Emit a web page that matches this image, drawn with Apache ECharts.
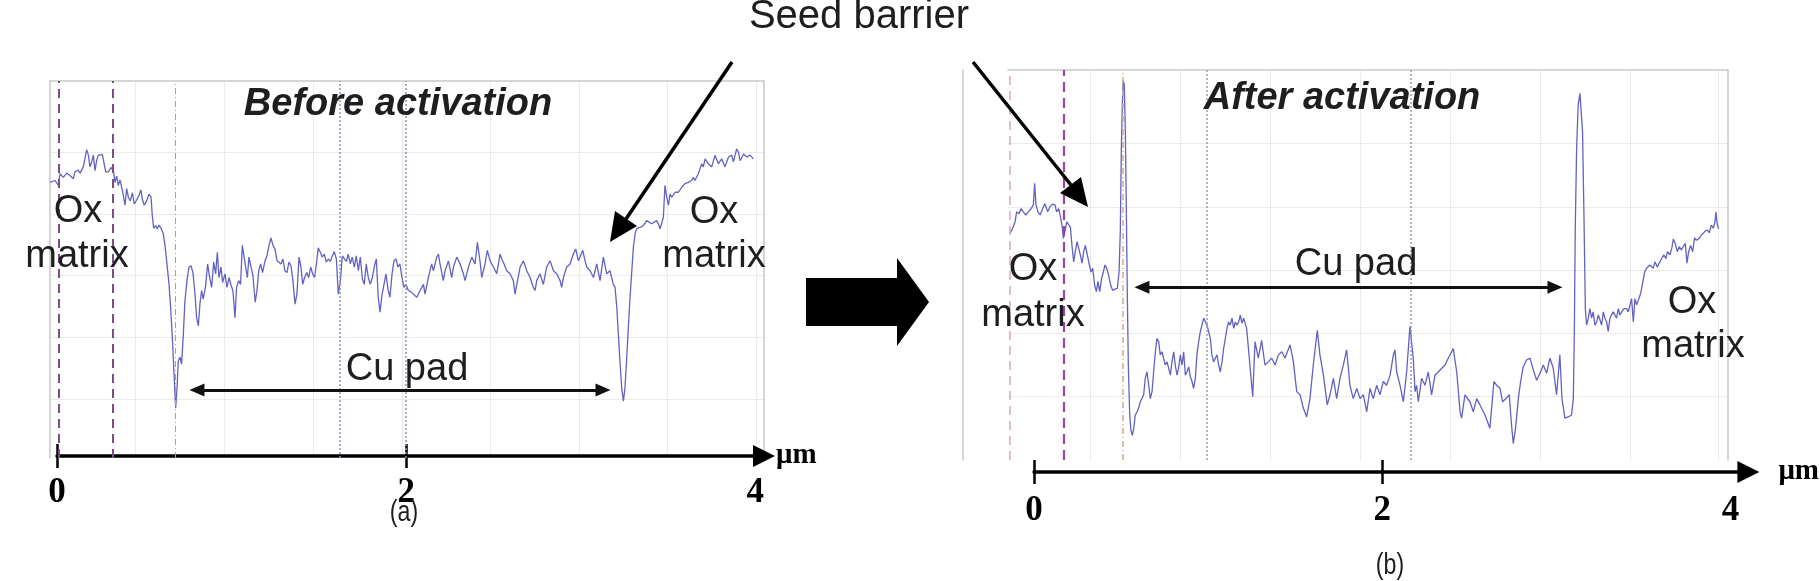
<!DOCTYPE html>
<html>
<head>
<meta charset="utf-8">
<title>Seed barrier - before / after activation</title>
<script src="https://cdn.jsdelivr.net/npm/echarts@6/dist/echarts.min.js"></script>
<style>
  html, body { margin: 0; padding: 0; background: #fff; }
  #chart { width: 1820px; height: 581px; }
</style>
</head>
<body>
<div id="chart"></div>
<script>
"use strict";//严格模式

// 激活前扫描: [位置 μm, 强度 a.u.]
var beforeScan = [
  [-0.040,4.51],[-0.011,4.54],[0.008,4.46],[0.017,4.65],[0.036,4.59],[0.055,4.66],[0.074,4.62],[0.094,4.57],
  [0.103,4.68],[0.122,4.71],[0.132,4.66],[0.151,4.76],[0.170,5.04],[0.180,4.95],[0.189,4.76],[0.199,4.84],
  [0.208,4.95],[0.218,4.70],[0.227,4.86],[0.237,4.95],[0.246,4.97],[0.260,4.96],[0.271,4.97],[0.279,4.68],
  [0.294,4.68],[0.309,4.75],[0.323,4.70],[0.332,4.51],[0.342,4.61],[0.351,4.46],[0.361,4.55],[0.374,4.39],
  [0.390,4.14],[0.399,4.41],[0.409,4.27],[0.420,4.21],[0.432,4.34],[0.443,4.16],[0.456,4.22],[0.470,4.30],
  [0.481,4.39],[0.489,4.24],[0.500,4.14],[0.514,4.21],[0.527,4.32],[0.539,4.27],[0.546,3.97],[0.554,3.77],
  [0.565,3.81],[0.575,3.76],[0.584,3.82],[0.596,3.77],[0.609,3.68],[0.619,3.49],[0.630,3.19],[0.642,2.86],
  [0.651,2.49],[0.661,2.00],[0.670,1.46],[0.680,0.86],[0.688,1.19],[0.695,1.62],[0.705,1.68],[0.714,1.57],
  [0.724,2.05],[0.733,2.59],[0.745,2.92],[0.756,3.14],[0.768,3.16],[0.779,3.05],[0.791,2.70],[0.800,2.32],
  [0.810,2.19],[0.819,2.54],[0.829,2.76],[0.838,2.62],[0.852,2.84],[0.863,3.19],[0.875,2.97],[0.886,2.81],
  [0.898,3.22],[0.909,3.03],[0.919,3.38],[0.928,2.97],[0.940,3.14],[0.949,2.89],[0.963,3.03],[0.974,2.81],
  [0.986,2.97],[0.997,2.85],[1.008,2.76],[1.020,2.32],[1.029,2.81],[1.041,2.92],[1.052,2.86],[1.062,3.49],
  [1.072,3.51],[1.081,3.14],[1.091,2.97],[1.100,3.30],[1.112,3.14],[1.123,3.00],[1.136,2.57],[1.146,2.76],
  [1.156,3.08],[1.167,3.19],[1.178,3.05],[1.192,3.24],[1.203,3.32],[1.215,3.49],[1.226,3.61],[1.238,3.49],
  [1.249,3.43],[1.261,3.24],[1.272,3.27],[1.284,3.19],[1.295,3.27],[1.306,3.08],[1.318,3.05],[1.329,3.22],
  [1.341,3.16],[1.352,2.92],[1.364,2.54],[1.375,2.70],[1.387,3.30],[1.398,3.14],[1.408,2.86],[1.419,2.97],
  [1.431,3.05],[1.442,2.97],[1.454,3.14],[1.465,3.03],[1.476,2.97],[1.488,3.22],[1.497,3.45],[1.509,3.38],
  [1.520,3.30],[1.532,3.35],[1.543,3.22],[1.555,3.27],[1.566,3.23],[1.578,3.32],[1.589,3.39],[1.601,3.27],
  [1.612,2.70],[1.624,2.92],[1.635,3.32],[1.646,3.34],[1.658,3.23],[1.669,3.35],[1.681,3.19],[1.692,3.30],
  [1.704,3.14],[1.715,3.32],[1.727,3.08],[1.738,3.30],[1.750,2.95],[1.761,2.86],[1.772,3.19],[1.784,2.97],
  [1.795,2.86],[1.807,2.97],[1.818,3.14],[1.830,3.27],[1.841,2.65],[1.851,2.41],[1.862,2.68],[1.874,2.86],
  [1.885,3.03],[1.897,2.78],[1.908,2.65],[1.920,3.03],[1.931,3.24],[1.943,3.27],[1.954,3.14],[1.965,3.19],
  [1.977,2.97],[1.988,2.81],[2.000,2.86],[2.013,2.76],[2.032,2.73],[2.042,2.70],[2.062,2.65],[2.081,2.76],
  [2.100,2.86],[2.109,2.70],[2.128,2.97],[2.147,3.19],[2.157,3.08],[2.176,3.30],[2.186,3.35],[2.195,3.19],
  [2.214,2.92],[2.224,3.08],[2.243,3.24],[2.262,2.97],[2.272,3.14],[2.291,3.30],[2.310,3.19],[2.329,3.03],
  [2.338,2.92],[2.358,3.14],[2.377,3.30],[2.396,3.19],[2.409,3.54],[2.424,3.24],[2.434,2.97],[2.453,3.19],
  [2.466,3.41],[2.482,3.24],[2.501,3.14],[2.520,3.03],[2.539,3.35],[2.549,3.27],[2.562,3.19],[2.577,3.08],
  [2.596,3.03],[2.615,2.92],[2.625,2.70],[2.635,2.86],[2.654,3.14],[2.673,3.24],[2.692,3.08],[2.711,2.97],
  [2.730,2.81],[2.740,2.76],[2.749,2.92],[2.768,3.03],[2.787,2.86],[2.806,3.14],[2.826,3.24],[2.845,3.08],
  [2.864,3.03],[2.883,2.92],[2.892,2.81],[2.902,2.97],[2.921,3.14],[2.940,3.19],[2.959,3.35],[2.973,3.43],
  [2.988,3.24],[2.997,3.30],[3.013,3.41],[3.026,3.24],[3.036,3.14],[3.055,3.08],[3.064,3.03],[3.074,2.97],
  [3.093,3.19],[3.112,2.92],[3.131,3.30],[3.150,3.03],[3.169,3.08],[3.188,2.86],[3.198,2.81],[3.208,2.49],
  [3.217,2.05],[3.227,1.57],[3.236,1.19],[3.246,0.97],[3.255,1.19],[3.265,1.68],[3.274,2.16],[3.284,2.65],
  [3.293,3.03],[3.303,3.46],[3.313,3.68],[3.322,3.76],[3.341,3.78],[3.360,3.81],[3.379,3.89],[3.389,3.92],
  [3.408,3.84],[3.418,3.81],[3.437,3.89],[3.446,3.84],[3.456,3.76],[3.465,3.73],[3.475,3.95],[3.484,4.46],
  [3.494,4.27],[3.504,4.14],[3.513,4.32],[3.523,4.27],[3.542,4.35],[3.561,4.35],[3.580,4.43],[3.599,4.49],
  [3.618,4.51],[3.637,4.54],[3.647,4.59],[3.656,4.54],[3.675,4.65],[3.695,4.81],[3.704,4.76],[3.714,4.89],
  [3.733,4.81],[3.752,4.76],[3.771,4.95],[3.790,4.81],[3.809,4.89],[3.828,4.76],[3.848,4.92],[3.867,4.95],
  [3.876,4.84],[3.895,5.05],[3.905,5.00],[3.915,4.86],[3.934,4.97],[3.953,4.92],[3.972,4.95],[3.991,4.89]
];

// 激活后扫描: [位置 μm, 强度 a.u.]
var afterScan = [
  [-0.126,3.58],[-0.111,3.66],[-0.097,3.76],[-0.088,3.92],[-0.074,3.89],[-0.063,3.97],[-0.050,3.92],[-0.036,3.87],
  [-0.021,3.92],[-0.008,3.96],[0.008,4.03],[0.015,4.37],[0.023,4.03],[0.034,3.92],[0.046,3.87],[0.061,3.97],
  [0.074,4.05],[0.090,3.92],[0.103,4.00],[0.118,4.04],[0.132,4.03],[0.141,3.92],[0.153,3.97],[0.164,3.83],
  [0.172,3.71],[0.180,3.50],[0.189,3.61],[0.199,3.76],[0.210,3.79],[0.220,3.68],[0.229,3.39],[0.239,3.13],
  [0.248,3.29],[0.258,3.45],[0.267,3.47],[0.277,3.24],[0.287,3.11],[0.296,3.29],[0.306,3.39],[0.317,3.39],
  [0.329,3.08],[0.338,2.97],[0.348,3.03],[0.359,2.76],[0.369,2.66],[0.378,2.82],[0.388,2.66],[0.399,2.87],
  [0.409,2.97],[0.418,3.08],[0.428,3.03],[0.439,2.92],[0.451,2.76],[0.462,2.68],[0.476,2.70],[0.489,2.71],
  [0.499,2.97],[0.506,3.61],[0.512,4.92],[0.518,5.66],[0.523,6.00],[0.529,5.92],[0.535,5.18],[0.541,3.87],
  [0.546,2.66],[0.552,1.50],[0.560,0.71],[0.567,0.47],[0.575,0.39],[0.583,0.50],[0.592,0.71],[0.602,0.76],
  [0.611,0.82],[0.621,0.92],[0.630,0.97],[0.640,1.03],[0.649,1.29],[0.659,1.39],[0.669,1.18],[0.678,0.97],
  [0.688,1.08],[0.697,1.39],[0.707,1.71],[0.716,1.92],[0.726,1.87],[0.735,1.66],[0.745,1.71],[0.754,1.61],
  [0.764,1.50],[0.774,1.55],[0.783,1.45],[0.793,1.34],[0.802,1.55],[0.812,1.71],[0.821,1.50],[0.831,1.34],
  [0.840,1.45],[0.850,1.66],[0.860,1.50],[0.869,1.71],[0.879,1.34],[0.888,1.39],[0.898,1.47],[0.907,1.32],
  [0.917,1.24],[0.926,1.13],[0.936,1.29],[0.945,1.66],[0.955,1.87],[0.965,2.03],[0.974,2.13],[0.984,2.24],
  [0.993,2.26],[1.003,2.13],[1.012,2.13],[1.022,1.92],[1.031,1.66],[1.041,1.55],[1.051,1.61],[1.060,1.66],
  [1.070,1.50],[1.079,1.39],[1.089,1.55],[1.098,1.76],[1.108,1.92],[1.117,2.08],[1.127,2.18],[1.136,2.13],
  [1.146,2.24],[1.156,2.08],[1.165,2.18],[1.175,2.13],[1.184,2.18],[1.194,2.29],[1.203,2.16],[1.213,2.24],
  [1.230,2.08],[1.265,1.00],[1.278,1.87],[1.297,1.61],[1.316,1.89],[1.335,1.50],[1.354,1.55],[1.373,1.61],
  [1.393,1.50],[1.412,1.66],[1.431,1.71],[1.450,1.61],[1.479,1.82],[1.498,1.55],[1.517,1.08],[1.536,1.03],
  [1.555,0.82],[1.574,0.68],[1.593,0.97],[1.612,1.50],[1.635,2.05],[1.650,1.66],[1.670,1.34],[1.692,0.87],
  [1.708,1.03],[1.727,1.29],[1.746,0.97],[1.765,1.29],[1.784,1.50],[1.803,1.74],[1.822,1.18],[1.841,0.97],
  [1.861,1.13],[1.880,0.97],[1.899,1.03],[1.918,0.76],[1.937,1.13],[1.956,0.97],[1.975,1.18],[1.994,1.03],
  [2.013,1.24],[2.032,1.18],[2.052,1.34],[2.071,1.66],[2.080,1.74],[2.090,1.39],[2.109,1.18],[2.128,0.92],
  [2.147,1.39],[2.166,2.11],[2.176,2.13],[2.185,1.61],[2.195,1.08],[2.204,1.18],[2.214,0.92],[2.233,1.29],
  [2.252,1.18],[2.271,1.39],[2.290,1.03],[2.309,1.34],[2.328,1.39],[2.348,1.45],[2.367,1.50],[2.386,1.61],
  [2.405,1.71],[2.414,1.76],[2.434,1.39],[2.453,0.76],[2.462,0.66],[2.481,1.03],[2.510,0.92],[2.529,0.76],
  [2.548,0.97],[2.567,0.87],[2.596,0.71],[2.624,0.50],[2.647,1.24],[2.663,1.18],[2.682,1.13],[2.697,0.92],
  [2.716,0.97],[2.735,1.03],[2.748,0.55],[2.758,0.26],[2.771,0.50],[2.787,0.97],[2.800,1.24],[2.815,1.47],
  [2.834,1.58],[2.854,1.61],[2.873,1.42],[2.892,1.26],[2.911,1.37],[2.930,1.50],[2.949,1.37],[2.968,1.61],
  [2.987,1.45],[3.006,1.03],[3.025,1.66],[3.037,0.97],[3.054,0.66],[3.073,0.68],[3.092,0.71],[3.102,0.97],
  [3.108,2.03],[3.113,3.61],[3.121,4.92],[3.130,5.61],[3.140,5.79],[3.148,5.76],[3.155,5.18],[3.163,3.87],
  [3.171,2.39],[3.178,2.13],[3.188,2.24],[3.197,2.39],[3.207,2.24],[3.216,2.34],[3.226,2.13],[3.236,2.18],
  [3.245,2.29],[3.255,2.21],[3.264,2.13],[3.274,2.34],[3.283,2.24],[3.293,2.18],[3.302,2.03],[3.312,2.24],
  [3.321,2.29],[3.331,2.34],[3.350,2.24],[3.360,2.39],[3.369,2.29],[3.379,2.34],[3.392,2.39],[3.407,2.39],
  [3.417,2.34],[3.427,2.45],[3.436,2.55],[3.446,2.18],[3.455,2.55],[3.465,2.45],[3.478,2.55],[3.488,2.63],
  [3.499,2.79],[3.511,2.97],[3.522,3.03],[3.541,3.08],[3.560,3.03],[3.570,3.13],[3.583,3.05],[3.598,3.13],
  [3.610,3.19],[3.621,3.24],[3.633,3.18],[3.642,3.29],[3.656,3.24],[3.667,3.35],[3.675,3.49],[3.686,3.42],
  [3.698,3.29],[3.709,3.37],[3.721,3.32],[3.732,3.37],[3.744,3.42],[3.753,3.11],[3.763,3.29],[3.774,3.39],
  [3.786,3.29],[3.797,3.51],[3.808,3.47],[3.824,3.50],[3.835,3.55],[3.847,3.58],[3.858,3.62],[3.870,3.63],
  [3.881,3.59],[3.893,3.71],[3.904,3.66],[3.914,3.76],[3.919,3.92],[3.927,3.72],[3.935,3.65]
];

// 竖直参考线位置 (μm)
var beforeMarks = [0.006, 0.315, 0.682, 1.616, 2.000];
var afterMarks = [-0.126, 0.178, 0.523, 1.005, 2.170];
// 浅灰网格线
var beforeGridX = [0.447, 0.957, 1.467, 1.977, 2.481, 2.991, 3.496, 4.006];
var afterGridX = [0.332, 0.848, 1.364, 1.880, 2.395, 2.911, 3.427, 3.931];
var gridY = [1, 2, 3, 4, 5];
// 标尺
var rulerTicks = [0, 2];
var rulerLabels = [0, 2, 4];
// Cu pad 双箭头两端 [μm, a.u.]
var beforePad = [[0.802, 1.15], [3.129, 1.15]];
var afterPad = [[0.630, 2.73], [2.997, 2.73]];

var SANS = '"Liberation Sans", Arial, sans-serif';
var SERIF = '"Liberation Serif", "Times New Roman", serif';
var BOX = '#c9c9c9';
var GRIDLINE = '#ebebeb';

function dataXAxis(grid, min, max, splits) {
    return {
        type: 'value', gridIndex: grid, min: min, max: max, position: 'top',
        axisLine: { show: true, onZero: false, lineStyle: { color: BOX, width: 1.5 } },
        axisTick: { show: false, customValues: splits },
        axisLabel: { show: false },
        splitLine: { show: true, lineStyle: { color: GRIDLINE, width: 1 } }
    };
}

function dataYAxis(grid, min, max, offset) {
    return {
        type: 'value', gridIndex: grid, min: min, max: max, offset: offset,
        axisLine: { show: true, onZero: false, lineStyle: { color: BOX, width: 1.5 } },
        axisTick: { show: false, customValues: gridY },
        axisLabel: { show: false },
        splitLine: { show: true, lineStyle: { color: GRIDLINE, width: 1 } }
    };
}

function rightBorder(grid) {
    return {
        type: 'value', gridIndex: grid, min: 0, max: 1, position: 'right',
        axisLine: { show: true, onZero: false, lineStyle: { color: BOX, width: 1.5 } },
        axisTick: { show: false }, axisLabel: { show: false }, splitLine: { show: false }
    };
}

// 标尺: 一条带箭头和刻度的轴, 刻度向下
function rulerAxis(grid, max, labelMargin, nameGap, nameLift) {
    return {
        type: 'value', gridIndex: grid, min: 0, max: max, position: 'bottom',
        name: 'μm', nameLocation: 'end', nameGap: nameGap,
        nameTextStyle: {
            fontFamily: SERIF, fontSize: 29, fontWeight: 'bold', color: '#000',
            align: 'left', verticalAlign: 'middle', padding: [0, 0, nameLift, 0]
        },
        axisLine: {
            show: true, onZero: false,
            symbol: ['none', 'triangle'], symbolSize: [22, 22],
            lineStyle: { color: '#000', width: 3.5 }
        },
        axisTick: { show: true, inside: false, length: 12, customValues: rulerTicks, lineStyle: { color: '#000', width: 2.5 } },
        axisLabel: {
            show: true, customValues: rulerLabels, margin: labelMargin,
            fontFamily: SERIF, fontSize: 35, fontWeight: 'bold', color: '#000'
        },
        splitLine: { show: false }
    };
}

// 标尺的刻度向上半截
function rulerTickUp(grid, max) {
    return {
        type: 'value', gridIndex: grid, min: 0, max: max, position: 'bottom',
        axisLine: { show: false, onZero: false },
        axisTick: { show: true, inside: true, length: 12, customValues: rulerTicks, lineStyle: { color: '#000', width: 2.5 } },
        axisLabel: { show: false },
        splitLine: { show: false }
    };
}

function vline(x, color, type, width) {
    return { xAxis: x, lineStyle: { color: color, type: type, width: width } };
}

function padArrow(ends) {
    var style = { color: '#111', width: 3, type: 'solid' };
    return [
        { coord: ends[0], symbol: 'triangle', symbolSize: [13, 15], lineStyle: style },
        { coord: ends[1], symbol: 'triangle', symbolSize: [13, 15], lineStyle: style }
    ];
}

function scanSeries(xi, yi, data, lines) {
    return {
        type: 'line', xAxisIndex: xi, yAxisIndex: yi, data: data,
        showSymbol: false, symbol: 'none', silent: true,
        lineStyle: { color: '#6262c4', width: 1.3 },
        markLine: {
            silent: true, symbol: ['none', 'none'], label: { show: false },
            animation: false, data: lines
        }
    };
}

function label(x, y, text, font, sx) {
    return {
        type: 'text', x: x, y: y, z: 100, silent: true, scaleX: sx || 1,
        style: { text: text, font: font, fill: '#1e1e1e', align: 'center', verticalAlign: 'middle' }
    };
}

var BIG = '38px ' + SANS;
var TITLE = 'italic bold 38px ' + SANS;

var myChart = echarts.init(document.getElementById('chart'));
var option = {
    backgroundColor: '#fff',
    animation: false,
    grid: [
        { left: 50, top: 81, width: 714, height: 377 },     // (a) 曲线
        { left: 57, top: 455, width: 707, height: 1 },      // (a) 标尺
        { left: 1008, top: 70, width: 720, height: 390 },   // (b) 曲线
        { left: 1034, top: 471, width: 718, height: 1 }     // (b) 标尺
    ],
    xAxis: [
        dataXAxis(0, -0.0401, 4.0516, beforeGridX),
        rulerAxis(1, 4.05, 19, 12, 14),
        rulerTickUp(1, 4.05),
        dataXAxis(2, -0.1375, 3.9885, afterGridX),
        rulerAxis(3, 4.103, 21, 30, 24),
        rulerTickUp(3, 4.103)
    ],
    yAxis: [
        dataYAxis(0, 0.05, 6.15, 0),
        rightBorder(0),
        { type: 'value', gridIndex: 1, show: false },
        dataYAxis(2, 0, 6.16, 45),
        rightBorder(2),
        { type: 'value', gridIndex: 3, show: false }
    ],
    series: [
        scanSeries(0, 0, beforeScan, [
            vline(beforeMarks[0], '#7d4c86', [9, 6], 2),
            vline(beforeMarks[1], '#7d4c86', [9, 6], 2),
            vline(beforeMarks[2], '#d8898e', [6, 3, 1, 3], 1),
            vline(beforeMarks[3], '#9090b8', [2, 2], 1.5),
            vline(beforeMarks[4], '#9090b8', [2, 2], 1.5),
            padArrow(beforePad)
        ]),
        scanSeries(3, 3, afterScan, [
            vline(afterMarks[0], '#d9a5c6', [9, 6], 1.5),
            vline(afterMarks[1], '#a040a0', [10, 6], 2.2),
            vline(afterMarks[2], '#d4a590', [6, 3, 1, 3], 1.5),
            vline(afterMarks[3], '#9a9ab8', [2, 2], 1.5),
            vline(afterMarks[4], '#9a9ab8', [2, 2], 1.5),
            padArrow(afterPad)
        ])
    ],
    graphic: [
        label(859, 17, 'Seed barrier', '40px ' + SANS),
        label(398, 105, 'Before activation', TITLE),
        label(1342, 99, 'After activation', TITLE),
        label(78, 212, 'Ox', BIG),
        label(77, 257, 'matrix', BIG),
        label(714, 213, 'Ox', BIG),
        label(714, 257, 'matrix', BIG),
        label(1033, 270, 'Ox', BIG),
        label(1033, 316, 'matrix', BIG),
        label(1692, 303, 'Ox', BIG),
        label(1693, 347, 'matrix', BIG),
        label(407, 370, 'Cu pad', BIG),
        label(1356, 265, 'Cu pad', BIG),
        label(404, 513, '(a)', '29px ' + SANS, 0.8),
        label(1390, 566, '(b)', '29px ' + SANS, 0.8),
        // Seed barrier 指示箭头
        { type: 'line', z: 100, silent: true, shape: { x1: 732, y1: 62, x2: 626, y2: 219 }, style: { stroke: '#000', lineWidth: 3.5 } },
        { type: 'polygon', z: 100, silent: true, shape: { points: [[610, 242], [637, 226], [615, 211]] }, style: { fill: '#000' } },
        { type: 'line', z: 100, silent: true, shape: { x1: 973, y1: 62, x2: 1071, y2: 185 }, style: { stroke: '#000', lineWidth: 3.5 } },
        { type: 'polygon', z: 100, silent: true, shape: { points: [[1088, 207], [1081, 177], [1060, 193]] }, style: { fill: '#000' } },
        // 中间的大箭头
        { type: 'polygon', z: 100, silent: true,
          shape: { points: [[806, 278], [897, 278], [897, 258], [929, 302], [897, 346], [897, 326], [806, 326]] },
          style: { fill: '#000' } }
    ]
};
myChart.setOption(option);
</script>
</body>
</html>
